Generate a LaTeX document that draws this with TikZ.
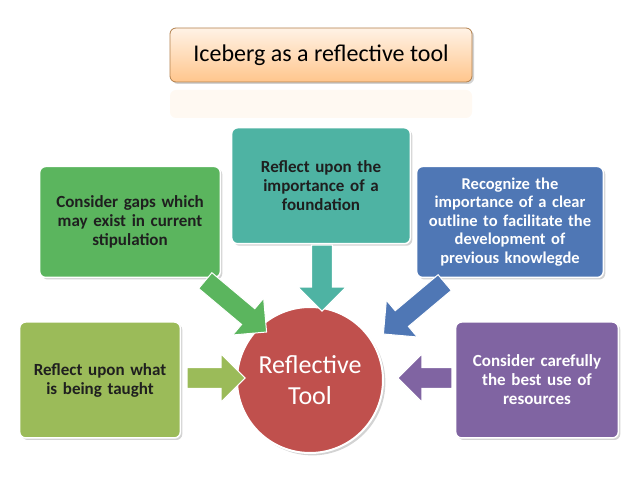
\documentclass[tikz,border=0pt]{standalone}
\usepackage{fontspec}
\setmainfont{Carlito}
\usetikzlibrary{shapes.arrows,shadows}
\definecolor{olv}{HTML}{9BBB59}
\definecolor{grn}{HTML}{5BB55E}
\definecolor{tea}{HTML}{4EB3A3}
\definecolor{blu}{HTML}{4F77B5}
\definecolor{pur}{HTML}{8064A2}
\definecolor{rd}{HTML}{C0504D}
\definecolor{txt}{HTML}{1F1F1F}
\tikzset{
 box/.style={draw=white,line width=1.5pt,rounded corners=6pt,align=center,font=\bfseries\fontsize{17}{19}\selectfont,drop shadow={opacity=0.35,shadow xshift=2pt,shadow yshift=-2pt}},
 barrow/.style={single arrow,draw=white,line width=1pt,minimum width=48pt,single arrow head extend=10pt,inner sep=7pt}
}
\begin{document}
\begin{tikzpicture}[x=1pt,y=-1pt]
\useasboundingbox (0,0) rectangle (638,478);
\fill[orange!5,rounded corners=6pt] (170,90) rectangle (472,118);
\node[box,font=\fontsize{24}{28}\selectfont,minimum width=302pt,minimum height=54pt,top color=orange!10,bottom color=orange!45,draw=orange!40!gray,line width=0.8pt,text=black] (title) at (321,55) {Iceberg as a reflective tool};
\node[circle,fill=rd,draw=white,line width=2pt,minimum size=146pt,align=center,text=white,font=\fontsize{26}{31}\selectfont,drop shadow={opacity=0.35}] (c) at (310,380) {Reflective\\Tool};
\node[box,fill=olv,text=txt,minimum width=160pt,minimum height=116pt,text width=154pt] (lb) at (100,380) {Reflect upon what\\is being taught};
\node[box,fill=grn,text=txt,minimum width=180pt,minimum height=111pt,text width=174pt] (lt) at (130,222) {Consider gaps which\\may exist in current\\stipulation};
\node[box,fill=tea,text=txt,minimum width=178pt,minimum height=116pt,text width=172pt,anchor=north] (tm) at (321,127) {Reflect upon the\\importance of a\\foundation};
\node[box,fill=blu,text=white,minimum width=184pt,minimum height=111pt,text width=180pt,font=\bfseries\fontsize{16.5}{18.5}\selectfont] (rt) at (510,222) {Recognize the\\importance of a clear\\outline to facilitate the\\development of\\previous knowlegde};
\node[box,fill=pur,text=white,minimum width=162pt,minimum height=116pt,text width=156pt] (rb) at (537,380) {Consider carefully\\the best use of\\resources};
\node[barrow,fill=olv,minimum height=58pt] (a1) at (211,378) {};
\node[barrow,fill=grn,minimum height=80pt,rotate=-40] (a2) at (232,303) {};
\node[barrow,fill=tea,minimum height=66pt,rotate=-90] (a3) at (322,273) {};
\node[barrow,fill=blu,minimum height=80pt,rotate=220] (a4) at (418,305) {};
\node[barrow,fill=pur,minimum height=54pt,rotate=180] (a5) at (430,378) {};
\end{tikzpicture}
\end{document}
